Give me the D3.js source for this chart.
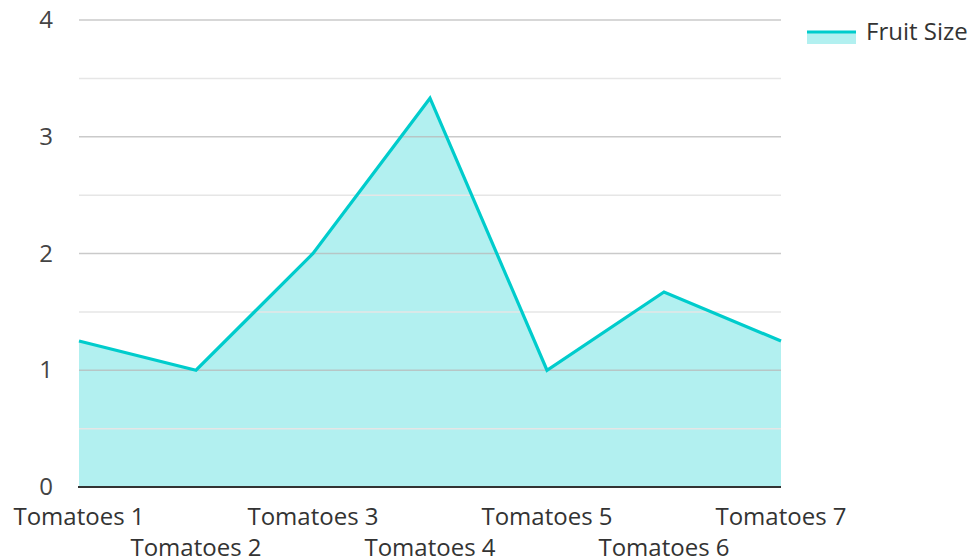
<!DOCTYPE html>
<html><head><meta charset="utf-8">
<script src="https://cdn.jsdelivr.net/npm/d3@7"></script>
<style>body{margin:0;background:#fff;font-family:"Open Sans",sans-serif;}</style>
</head><body><svg id="c" width="973" height="558"></svg>
<script>
const categories = ["Tomatoes 1","Tomatoes 2","Tomatoes 3","Tomatoes 4","Tomatoes 5","Tomatoes 6","Tomatoes 7"];
const fruitSize = [1.25, 1, 2, 3.33, 1, 1.67, 1.25];
const yTicks = [0,1,2,3,4];
const yMinor = [0.5,1.5,2.5,3.5];
const seriesName = "Fruit Size";

const svg = d3.select("#c");
const x = d3.scalePoint().domain(categories).range([79,781]);
const y = d3.scaleLinear().domain([0,4]).range([487,20]);
const data = categories.map((c,i)=>({c,v:fruitSize[i]}));

svg.append("path").datum(data)
  .attr("d", d3.area().x(d=>x(d.c)).y0(y(0)).y1(d=>y(d.v)))
  .attr("fill","#00cccc").attr("fill-opacity",0.3);

svg.selectAll(".minor").data(yMinor).enter().append("line")
  .attr("x1",79).attr("x2",781).attr("y1",d=>y(d)).attr("y2",d=>y(d))
  .attr("stroke","#e6e6e6").attr("stroke-width",1.5);
svg.selectAll(".major").data(yTicks.filter(d=>d>0)).enter().append("line")
  .attr("x1",79).attr("x2",781).attr("y1",d=>y(d)).attr("y2",d=>y(d))
  .attr("stroke","#b8b8b8").attr("stroke-opacity",0.75).attr("stroke-width",1.5);

svg.append("path").datum(data)
  .attr("d", d3.line().x(d=>x(d.c)).y(d=>y(d.v)))
  .attr("fill","none").attr("stroke","#00cccc").attr("stroke-width",3.2).attr("stroke-linejoin","miter");

svg.append("line").attr("x1",78).attr("x2",781).attr("y1",y(0)).attr("y2",y(0))
  .attr("stroke","#333").attr("stroke-width",2);

svg.selectAll(".yl").data(yTicks).enter().append("text")
  .attr("x",53).attr("y",d=>y(d)+8).attr("text-anchor","end")
  .attr("font-size",24).attr("fill","#444").text(d=>d);

svg.selectAll(".xl").data(categories).enter().append("text")
  .attr("x",d=>x(d)).attr("y",(d,i)=>i%2===0?525:556).attr("text-anchor","middle")
  .attr("font-size",24).attr("fill","#333").text(d=>d);

svg.append("rect").attr("x",807).attr("y",31).attr("width",49).attr("height",13)
  .attr("fill","#00cccc").attr("fill-opacity",0.3);
svg.append("line").attr("x1",807).attr("x2",856).attr("y1",32).attr("y2",32)
  .attr("stroke","#00cccc").attr("stroke-width",3);
svg.append("text").attr("x",866).attr("y",40).attr("font-size",24).attr("fill","#333").text(seriesName);
</script></body></html>
